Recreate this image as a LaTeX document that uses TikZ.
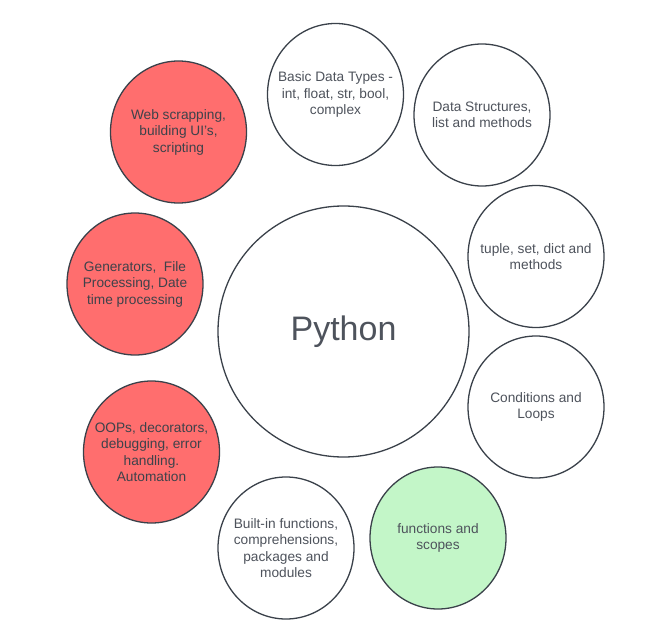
\documentclass[tikz,border=0pt]{standalone}
\usepackage{fontspec}
\setmainfont{Liberation Sans}
\usetikzlibrary{shapes.geometric}
\definecolor{edge}{HTML}{3A414A}
\definecolor{txt}{HTML}{4E535C}
\definecolor{redfill}{HTML}{FF6E6E}
\definecolor{greenfill}{HTML}{C3F6C8}
\tikzset{
  topic/.style={ellipse, draw=edge, line width=1.3pt, fill=white,
    minimum width=136pt, minimum height=142pt, inner xsep=-18pt, inner ysep=0pt,
    text=txt, align=center, font=\fontsize{13.7}{16.5}\selectfont},
  redtopic/.style={topic, fill=redfill, text=txt!80!black},
  greentopic/.style={topic, fill=greenfill},
  core/.style={circle, draw=edge, line width=1.3pt, minimum size=251pt,
    inner sep=0pt, text=txt, font=\fontsize{34}{40}\selectfont}
}
\begin{document}
\begin{tikzpicture}[x=1pt,y=-1pt]
\useasboundingbox (0,0) rectangle (667,642);
\node[core] (py) at (343.5,331.5) {\raisebox{3pt}{Python}};
\node[topic] (basic) at (335.5,94.5) {Basic Data Types -\\int, float, str, bool,\\complex};
\node[topic] (ds) at (482,115) {Data Structures,\\list and methods};
\node[topic] (tuple) at (536,256.5) {tuple, set, dict and\\methods};
\node[topic] (cond) at (536,407) {Conditions and\\Loops};
\node[greentopic] (func) at (438,538) {functions and\\scopes};
\node[topic] (builtin) at (286,548) {Built-in functions,\\comprehensions,\\packages and\\modules};
\node[redtopic] (oop) at (151.5,452) {OOPs, decorators,\\debugging, error\\handling.\\Automation};
\node[redtopic] (gen) at (135,284) {Generators,\ \ File\\Processing, Date\\time processing};
\node[redtopic] (web) at (178.5,132) {Web scrapping,\\building UI's,\\scripting};
\end{tikzpicture}
\end{document}
